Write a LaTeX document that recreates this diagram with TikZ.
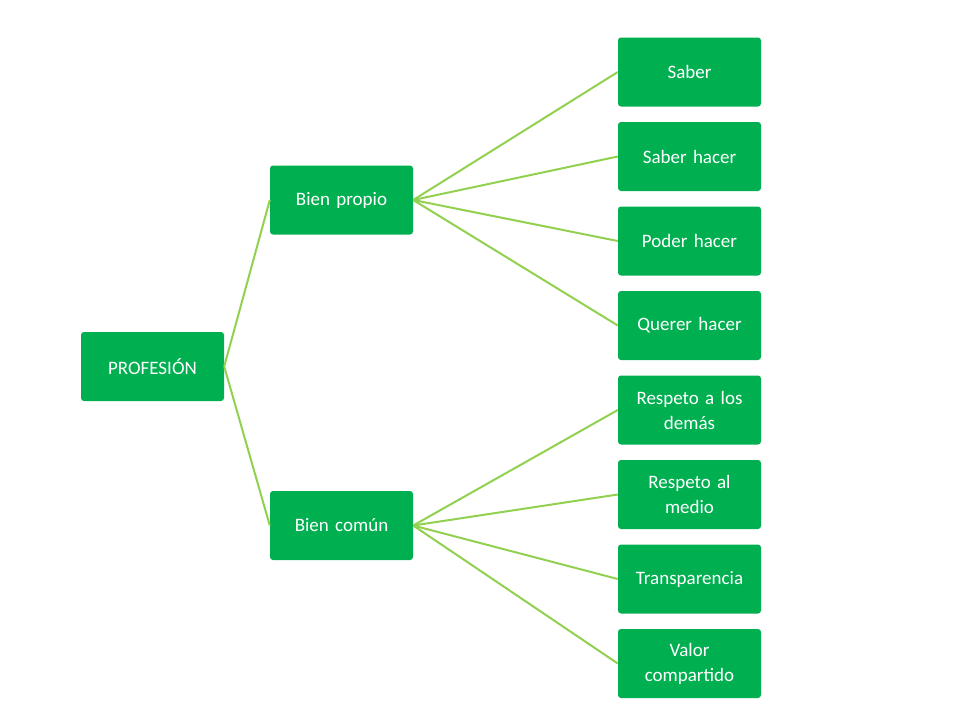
\documentclass[tikz,border=0pt]{standalone}
\usepackage{fontspec}
\setmainfont{Carlito}
\definecolor{boxgreen}{RGB}{0,176,80}
\definecolor{linegreen}{RGB}{146,208,80}
\usetikzlibrary{positioning}

\begin{document}
\begin{tikzpicture}[
    x=1pt, y=-1pt,
    item/.style={rectangle, fill=boxgreen, rounded corners=3pt, minimum width=143pt, minimum height=69pt, align=center, text width=140pt, text=white, font=\fontsize{19}{25}\selectfont, inner sep=0pt},
    link/.style={draw=linegreen, line width=2pt}
]
    \useasboundingbox (0,0) rectangle (960,720);

    \node[item] (prof) at (152.5, 366.5) {PROFESIÓN};
    \node[item] (propio) at (341.5, 200) {Bien propio};
    \node[item] (comun) at (341.5, 525.5) {Bien común};

    \node[item] (s1) at (689.5, 72) {Saber};
    \node[item] (s2) at (689.5, 156.5) {Saber hacer};
    \node[item] (s3) at (689.5, 241) {Poder hacer};
    \node[item] (s4) at (689.5, 325.5) {Querer hacer};
    \node[item] (c1) at (689.5, 410) {Respeto a los\\demás};
    \node[item] (c2) at (689.5, 494.5) {Respeto al\\medio};
    \node[item] (c3) at (689.5, 579) {Transparencia};
    \node[item] (c4) at (689.5, 663.5) {Valor\\compartido};

    \draw[link] (prof.east) -- (propio.west);
    \draw[link] (prof.east) -- (comun.west);
    \foreach \n in {s1, s2, s3, s4}
        \draw[link] (propio.east) -- (\n.west);
    \foreach \n in {c1, c2, c3, c4}
        \draw[link] (comun.east) -- (\n.west);
\end{tikzpicture}
\end{document}
